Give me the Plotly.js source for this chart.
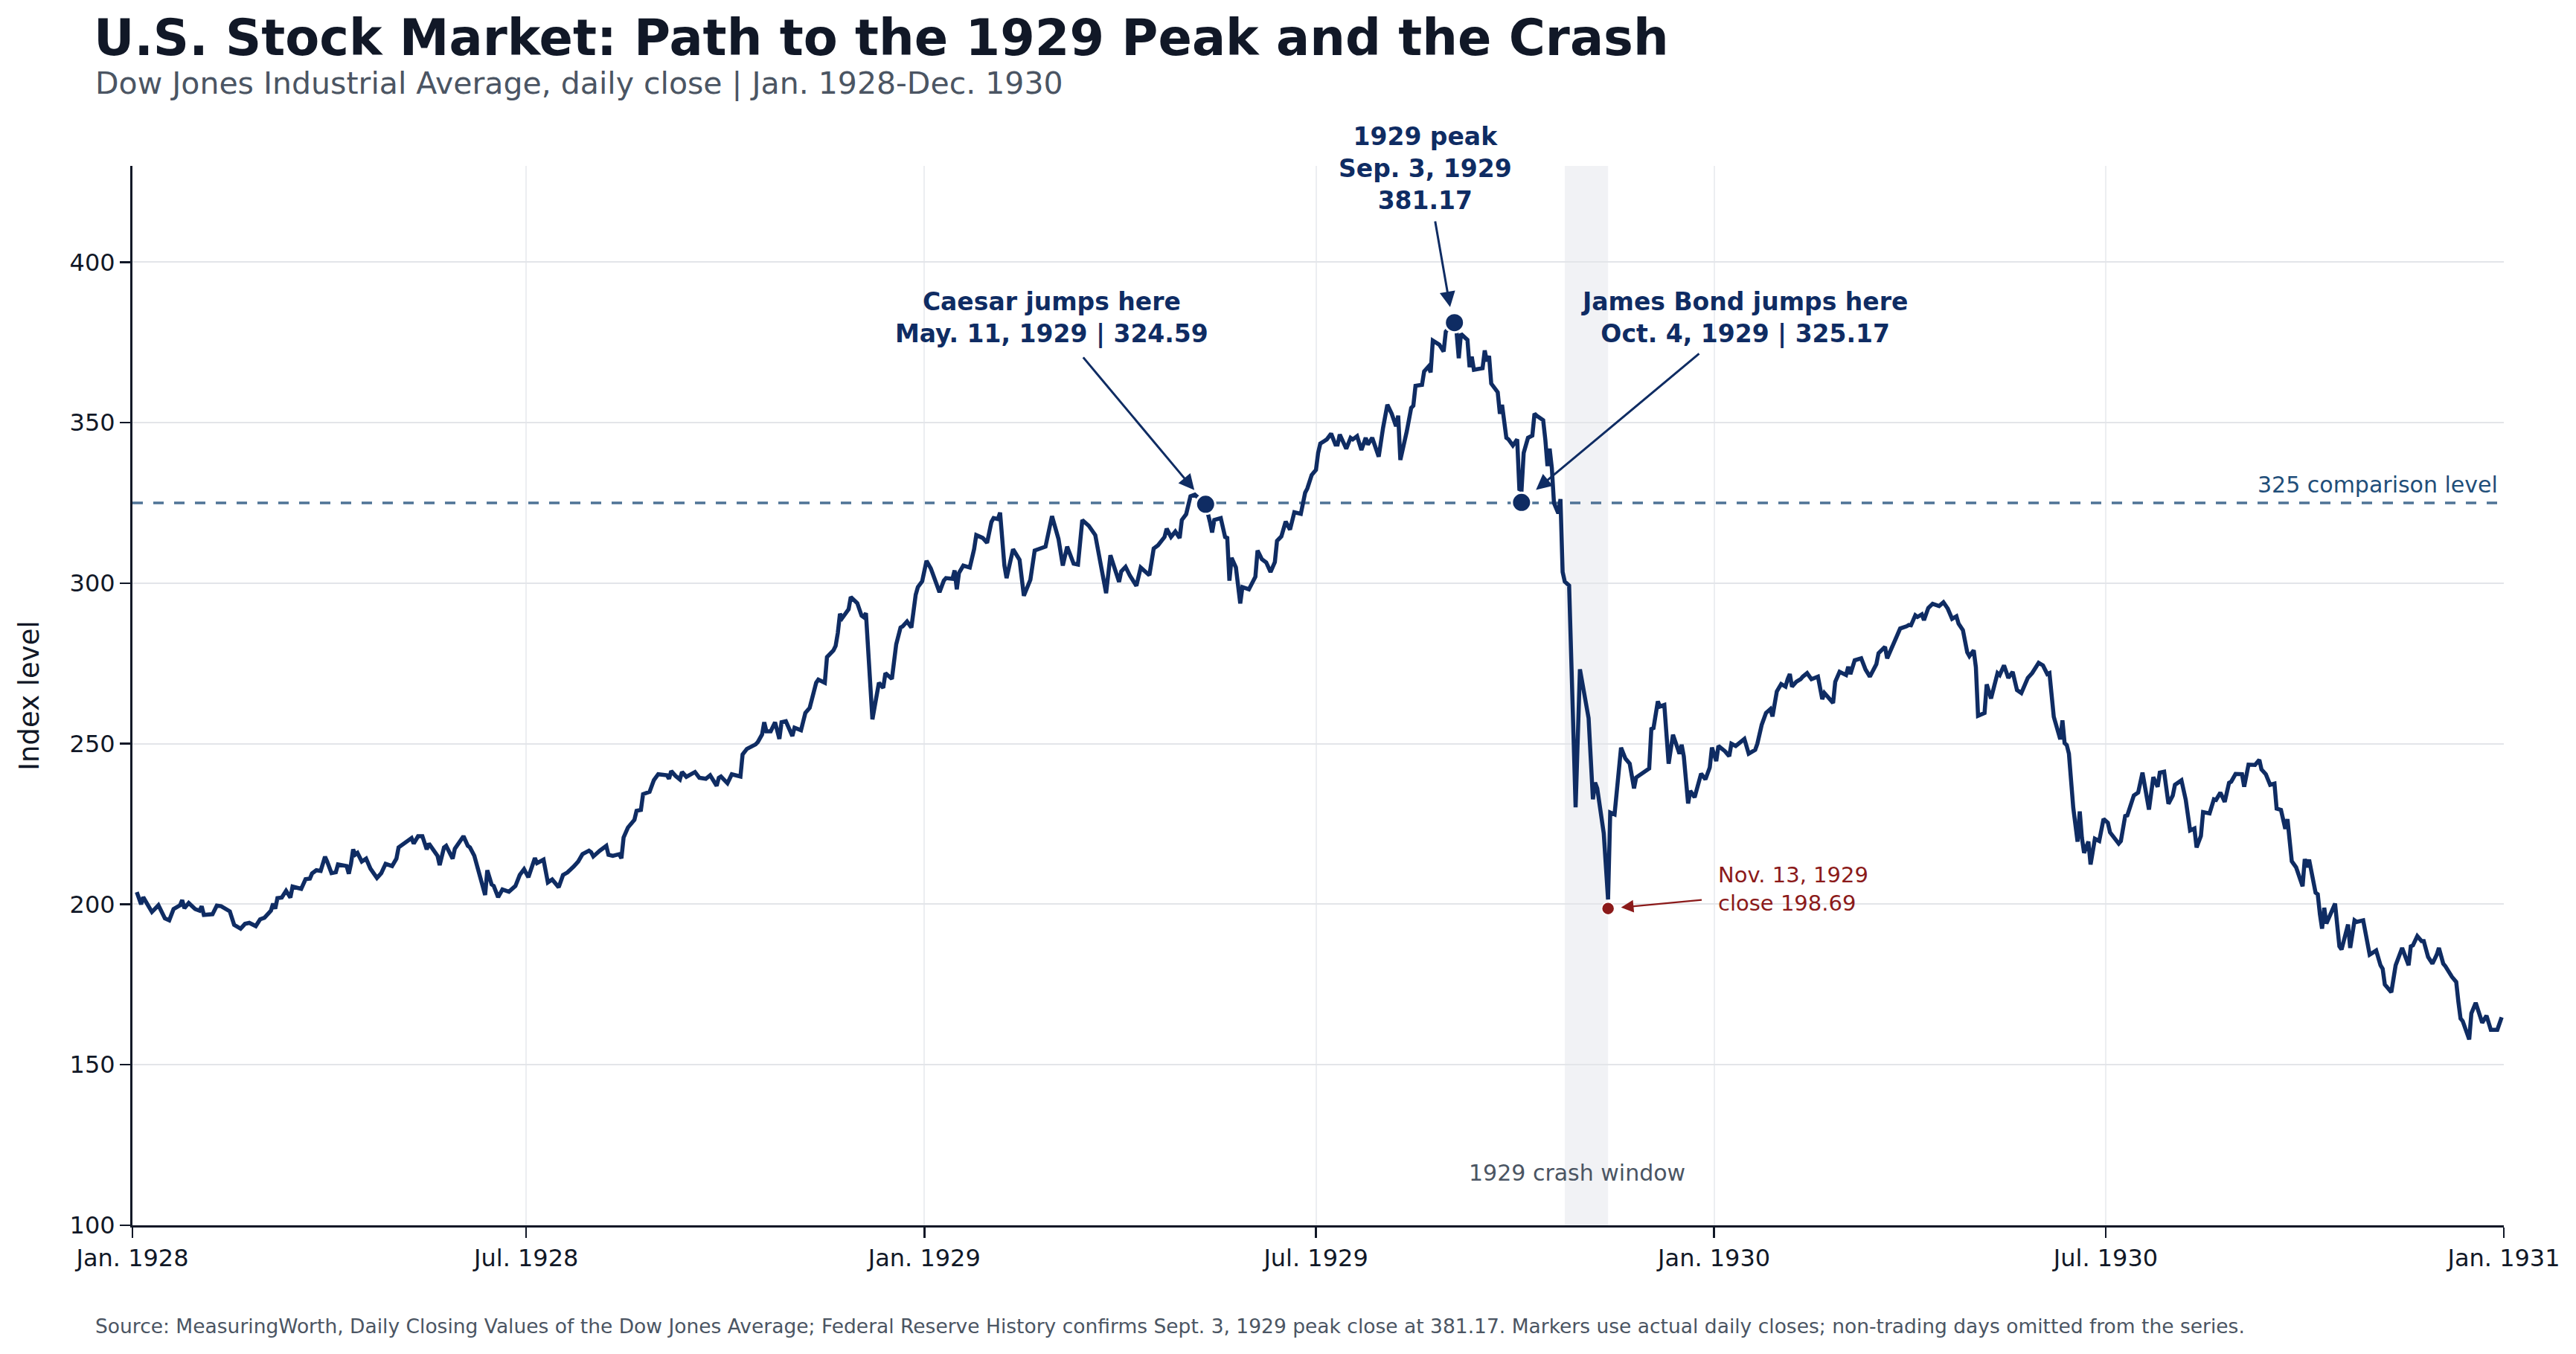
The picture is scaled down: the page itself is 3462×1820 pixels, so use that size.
<!DOCTYPE html>
<html>
<head>
<meta charset="utf-8">
<script src="https://cdn.plot.ly/plotly-3.0.1.min.js"></script>
<style>
html,body{margin:0;padding:0;background:#ffffff;}
#chart{width:3462px;height:1820px;}
</style>
</head>
<body>
<div id="chart"></div>
<script>
// ---------- DATA ----------
const days1928 = [
 '01-03','01-05','01-06','01-10','01-13','01-16','01-18','01-20','01-23','01-24','01-25','01-27','01-30',
 '02-01','02-02','02-03','02-07','02-09','02-11','02-15','02-17','02-20','02-22','02-24','02-27','02-29',
 '03-02','03-05','03-06','03-07','03-08','03-10','03-12','03-14','03-15','03-19','03-21','03-23','03-24','03-26','03-28','03-30','03-31',
 '04-02','04-04','04-05','04-09','04-10','04-11','04-12','04-13','04-14','04-16','04-18','04-20','04-23','04-25','04-27','04-30',
 '05-02','05-03','05-07','05-09','05-10','05-12','05-14','05-16','05-17','05-21','05-22','05-24','05-25','05-28','05-29',
 '06-02','06-04','06-05','06-07','06-09','06-12','06-13','06-15','06-16','06-18','06-20','06-23','06-26','06-28','06-30',
 '07-02','07-05','07-06','07-09','07-11','07-13','07-16','07-18','07-20','07-23','07-25','07-27','07-30','07-31',
 '08-01','08-04','08-07','08-08','08-10','08-13','08-14','08-15','08-17','08-20','08-21','08-23','08-24','08-27','08-29','08-31',
 '09-04','09-05','09-06','09-08','09-10','09-11','09-13','09-17','09-19','09-22','09-24','09-27','09-28','09-29',
 '10-02','10-04','10-08','10-09','10-11','10-15','10-16','10-18','10-19','10-20','10-22','10-24','10-26','10-27','10-29',
 '11-01','11-02','11-05','11-07','11-09','11-12','11-13','11-16','11-17','11-20','11-21','11-22','11-23','11-24','11-27','11-28',
 '12-01','12-03','12-04','12-05','12-08','12-11','12-13','12-14','12-17','12-19','12-21','12-22','12-24','12-26','12-28','12-29','12-31'
];
const closes1928 = [
 203.8,200.0,202.2,197.6,199.7,195.6,195.0,198.5,199.7,201.3,198.8,200.4,198.5,
 198.0,199.4,196.7,196.9,199.6,199.4,197.8,193.6,192.4,193.9,194.2,193.2,195.3,
 195.8,198.0,200.2,198.6,201.9,202.1,204.2,202.1,205.5,204.8,207.8,208.0,209.6,210.6,210.4,214.8,213.3,
 209.7,210.0,212.4,211.9,209.5,212.6,217.1,215.5,216.0,213.3,214.2,211.1,208.2,209.7,212.6,211.9,
 214.2,217.7,219.9,220.6,218.9,221.2,221.2,217.1,218.9,215.1,212.2,217.7,218.2,214.2,217.3,
 221.2,218.2,217.7,215.1,209.7,202.9,210.6,206.2,205.7,202.2,204.6,203.9,205.7,209.1,210.9,
 208.4,214.4,212.8,213.9,206.8,207.7,205.3,209.1,209.9,211.8,213.3,215.6,216.7,216.2,
 214.9,216.7,218.2,215.4,215.1,215.6,214.3,220.8,223.9,226.3,229.1,229.4,234.3,235.0,238.7,240.5,
 240.2,239.1,241.5,240.0,238.9,241.2,239.7,241.2,239.4,239.1,240.2,236.9,239.4,239.8,
 237.7,240.5,239.8,246.7,248.4,249.8,250.5,252.9,256.7,253.9,253.9,256.7,251.5,256.7,257.0,
 252.4,255.0,254.2,259.6,261.2,269.0,270.0,269.0,277.0,279.1,280.5,284.5,290.5,289.1,291.9,295.7,
 293.8,289.9,289.4,290.7,257.6,269.0,267.4,272.0,270.2,281.0,286.2,286.6,288.1,286.2,296.4,298.8,300.6
];
const days1929 = [
 '01-02','01-04','01-07','01-08','01-10','01-11','01-14','01-15','01-16','01-17','01-19','01-22','01-24','01-25','01-28','01-30',
 '02-01','02-02','02-04','02-05','02-07','02-08','02-11','02-14','02-16','02-19','02-21','02-26',
 '03-01','03-04','03-06','03-08','03-11','03-13','03-15','03-18','03-21','03-25','03-26','03-28','03-30',
 '04-01','04-02','04-04','04-06','04-09','04-11','04-15','04-17','04-19','04-22','04-23','04-25','04-27','04-29','04-30',
 '05-02','05-04','05-06','05-11','05-13','05-14','05-15','05-18','05-20','05-21','05-22','05-23','05-25','05-27','05-28','05-31',
 '06-03','06-04','06-06','06-08','06-10','06-12','06-13','06-15','06-17','06-19','06-21','06-24','06-26','06-27','06-29',
 '07-01','07-02','07-03','07-06','07-08','07-10','07-11','07-12','07-15','07-17','07-18','07-20','07-22','07-24','07-25','07-27','07-30',
 '08-01','08-03','08-05','08-07','08-08','08-09','08-12','08-14','08-15','08-16','08-19','08-20','08-22','08-23','08-24','08-27','08-29','08-30',
 '09-03','09-04','09-05','09-06','09-09','09-10','09-11','09-12','09-16','09-17','09-18','09-19','09-20','09-23','09-24','09-25','09-27','09-28','09-30',
 '10-02','10-03','10-04','10-05','10-07','10-09','10-10','10-11','10-14','10-15','10-16','10-17','10-18','10-19','10-21','10-22','10-23','10-24','10-26','10-29','10-31',
 '11-04','11-06','11-07','11-08','11-11','11-12','11-13','11-14','11-16','11-19','11-21','11-23','11-25','11-26',
 '12-02','12-03','12-04','12-06','12-07','12-09','12-11','12-13','12-16','12-17','12-18','12-20','12-21','12-23','12-26','12-28','12-30','12-31'
];
const closes1929 = [
 307.0,304.6,299.2,297.2,300.8,301.6,301.4,304.0,298.1,303.2,305.5,304.9,310.6,315.0,314.1,312.6,
 319.1,320.3,320.0,322.0,305.5,301.6,310.6,307.3,296.1,301.1,310.2,311.4,
 320.9,313.8,305.5,311.4,306.1,305.8,319.7,317.9,315.0,301.4,296.9,308.7,304.3,
 300.4,303.7,305.1,302.4,299.2,304.9,302.5,310.8,311.8,314.4,317.0,314.4,316.1,314.1,319.7,
 321.5,327.1,327.6,324.6,319.1,315.8,319.7,320.3,314.4,314.1,300.8,307.9,304.9,293.7,298.8,298.1,
 302.0,310.2,307.5,306.5,303.5,306.6,313.2,314.6,319.2,316.7,322.1,321.6,328.2,329.5,333.7,
 335.3,340.6,343.5,344.8,346.6,343.2,343.2,346.3,341.9,345.3,344.8,345.8,341.5,345.3,343.2,345.3,339.4,
 348.4,355.6,352.8,348.9,352.2,338.4,347.4,354.6,355.3,361.5,361.8,366.0,367.5,365.7,375.6,374.3,372.2,378.4,
 381.17,378.0,370.1,377.7,375.8,367.3,370.6,366.5,367.0,372.5,369.1,370.8,362.2,359.5,352.8,355.6,345.3,344.8,342.9,
 344.8,329.3,329.0,340.6,345.3,346.0,352.8,352.2,350.8,344.8,336.5,341.9,336.0,325.0,321.8,326.2,303.5,300.5,299.3,230.2,273.2,
 258.0,232.7,237.9,236.1,222.1,210.5,201.5,228.6,228.0,248.8,245.4,243.8,236.1,239.5,
 242.3,254.6,254.9,263.2,261.6,262.1,243.8,252.8,246.9,249.7,246.1,231.4,235.3,233.3,240.7,238.9,242.6,248.8
];
const days1930 = [
 '01-02','01-03','01-06','01-08','01-09','01-11','01-13','01-15','01-17','01-20','01-21','01-23','01-25','01-27','01-28','01-30',
 '02-01','02-03','02-04','02-05','02-06','02-08','02-10','02-11','02-13','02-15','02-18','02-20','02-21','02-25','02-26','02-28',
 '03-03','03-04','03-05','03-07','03-10','03-12','03-14','03-17','03-18','03-21','03-22','03-25','03-26','03-28','03-31',
 '04-01','04-02','04-04','04-05','04-07','04-08','04-10','04-12','04-15','04-17','04-19','04-21','04-23','04-24','04-26','04-28','04-29',
 '05-01','05-02','05-03','05-06','05-07','05-09','05-12','05-13','05-15','05-17','05-19','05-21','05-23','05-26','05-28','05-31',
 '06-02','06-04','06-05','06-07','06-10','06-11','06-12','06-13','06-14','06-16','06-18','06-19','06-20','06-21','06-23','06-24','06-26','06-28','06-30',
 '07-02','07-03','07-07','07-08','07-10','07-11','07-14','07-16','07-18','07-21','07-23','07-25','07-26','07-28','07-30',
 '08-01','08-02','08-05','08-07','08-09','08-11','08-12','08-14','08-15','08-18','08-20','08-21','08-23','08-25','08-27','08-28','08-30',
 '09-02','09-03','09-05','09-08','09-10','09-11','09-13','09-15','09-17','09-18','09-20','09-22','09-23','09-25','09-27','09-30',
 '10-01','10-02','10-03','10-06','10-07','10-08','10-09','10-10','10-11','10-15','10-16','10-17','10-18','10-21','10-22','10-24','10-25','10-28','10-31',
 '11-03','11-05','11-06','11-07','11-10','11-12','11-15','11-18','11-19','11-20','11-22','11-24','11-25','11-27','11-29',
 '12-01','12-02','12-04','12-05','12-08','12-10','12-11','12-12','12-13','12-16','12-17','12-18','12-19','12-22','12-24','12-26','12-29','12-31'
];
const closes1930 = [
 244.6,249.3,247.7,246.1,250.0,249.3,250.3,251.5,246.9,248.1,250.0,255.9,259.6,260.8,258.5,266.3,
 268.6,267.8,270.1,271.7,267.8,269.3,270.1,270.9,272.0,270.1,270.9,263.9,265.8,262.7,269.3,272.4,
 271.4,274.0,271.7,276.0,276.6,273.1,270.9,274.8,278.2,280.2,276.6,281.0,282.5,285.9,286.6,
 287.0,286.9,290.0,289.5,290.3,288.5,292.3,293.6,292.9,294.07,292.1,288.9,289.7,287.4,285.4,278.5,277.3,
 279.1,273.8,258.7,259.6,268.5,264.1,272.0,271.4,274.4,270.5,272.4,266.7,265.8,270.5,272.0,275.2,
 274.4,271.7,272.0,258.4,251.4,257.3,250.2,249.6,246.9,230.1,219.5,228.9,220.7,216.0,219.5,212.4,220.4,219.7,226.6,
 225.4,222.4,218.9,219.7,227.5,227.7,233.9,234.8,241.0,229.5,239.6,236.6,241.0,241.3,231.3,
 233.9,237.2,238.6,232.5,223.0,223.6,217.7,221.3,228.7,228.3,232.7,232.5,234.8,231.9,237.8,238.2,240.6,
 240.5,236.6,243.5,243.4,245.0,242.0,240.5,237.2,237.6,229.8,229.4,223.5,226.5,213.4,211.5,205.6,
 214.1,211.5,213.9,203.6,203.1,196.9,192.4,198.9,194.0,200.2,194.5,186.9,185.9,193.7,186.4,195.0,194.5,195.0,184.3,
 185.6,181.0,179.9,175.0,172.6,181.0,186.4,181.0,186.9,187.2,190.1,188.5,188.5,183.6,181.5,
 184.3,186.4,181.5,180.7,177.4,175.8,169.6,164.4,163.6,157.9,166.0,167.7,169.3,163.1,165.3,160.9,160.9,164.8
];

const keyDates = ['1929-05-11','1929-09-03','1929-10-04'];
const keyCloses = [324.59, 381.17, 325.17];
const troughDates = ['1929-11-13'];
const troughCloses = [198.69];
const comparisonLevel = 325;
const crashWindow = ['1929-10-24','1929-11-13'];
const tickDates = ['1928-01-01','1928-07-01','1929-01-01','1929-07-01','1930-01-01','1930-07-01','1931-01-01'];
const tickLabels = ['Jan. 1928','Jul. 1928','Jan. 1929','Jul. 1929','Jan. 1930','Jul. 1930','Jan. 1931'];
const yTicks = [100,150,200,250,300,350,400];

// ---------- BUILD ----------
const allDates = [].concat(
  days1928.map(d => '1928-' + d),
  days1929.map(d => '1929-' + d),
  days1930.map(d => '1930-' + d)
);
const allCloses = [].concat(closes1928, closes1929, closes1930);

const NAVY = '#0f2c63';
const DARK = '#111827';
const GRAY = '#4b5563';
const RED = '#8b1a1a';
const FONT = 'DejaVu Sans';

const traces = [
  {
    type: 'scatter', mode: 'lines', x: allDates, y: allCloses,
    line: {color: NAVY, width: 5.5}, hoverinfo: 'skip', showlegend: false
  },
  {
    type: 'scatter', mode: 'markers', x: keyDates, y: keyCloses,
    marker: {size: 26, color: NAVY, line: {color: '#ffffff', width: 3}},
    hoverinfo: 'skip', showlegend: false, cliponaxis: false
  },
  {
    type: 'scatter', mode: 'markers', x: troughDates, y: troughCloses,
    marker: {size: 17, color: RED, line: {color: '#ffffff', width: 1.5}},
    hoverinfo: 'skip', showlegend: false, cliponaxis: false
  }
];

const boldNavy = {family: FONT, size: 33, color: NAVY, weight: 'bold'};

const annotations = [
  // subtitle
  {xref: 'paper', yref: 'paper', x: -0.0163, y: 1.0780, xanchor: 'left', yanchor: 'middle',
   text: 'Dow Jones Industrial Average, daily close | Jan. 1928-Dec. 1930', showarrow: false,
   font: {family: FONT, size: 41, color: GRAY}},
  // footer
  {xref: 'paper', yref: 'paper', x: -0.0163, y: -0.0955, xanchor: 'left', yanchor: 'middle',
   text: 'Source: MeasuringWorth, Daily Closing Values of the Dow Jones Average; Federal Reserve History confirms Sept. 3, 1929 peak close at 381.17. Markers use actual daily closes; non-trading days omitted from the series.',
   showarrow: false, font: {family: FONT, size: 26.5, color: GRAY}},
  // comparison label
  {xref: 'paper', yref: 'y', x: 0.998, y: 330.8, xanchor: 'right', yanchor: 'middle',
   text: '325 comparison level', showarrow: false, font: {family: FONT, size: 30, color: '#1f4e79'}},
  // crash window label
  {xref: 'x', yref: 'y', x: '1929-10-29 18:00', y: 116.3, xanchor: 'center', yanchor: 'middle',
   text: '1929 crash window', showarrow: false, font: {family: FONT, size: 30, color: GRAY}},
  // Caesar
  {xref: 'x', yref: 'y', x: '1929-03-01', y: 382.8, xanchor: 'center', yanchor: 'middle',
   text: 'Caesar jumps here<br>May. 11, 1929 | 324.59', showarrow: false, font: boldNavy},
  {xref: 'x', yref: 'y', x: '1929-05-05 19:00', y: 329.0, axref: 'x', ayref: 'y',
   ax: '1929-03-15', ay: 370.7, text: '', showarrow: true, arrowhead: 2, arrowsize: 1.4,
   arrowwidth: 3, arrowcolor: NAVY, standoff: 0, startstandoff: 0},
  // Peak
  {xref: 'x', yref: 'y', x: '1929-08-20 10:00', y: 429.3, xanchor: 'center', yanchor: 'middle',
   text: '1929 peak<br>Sep. 3, 1929<br>381.17', showarrow: false, font: boldNavy},
  {xref: 'x', yref: 'y', x: '1929-09-01', y: 386.0, axref: 'x', ayref: 'y',
   ax: '1929-08-25', ay: 413.1, text: '', showarrow: true, arrowhead: 2, arrowsize: 1.4,
   arrowwidth: 3, arrowcolor: NAVY, standoff: 0, startstandoff: 0},
  // James Bond
  {xref: 'x', yref: 'y', x: '1930-01-15', y: 382.8, xanchor: 'center', yanchor: 'middle',
   text: 'James Bond jumps here<br>Oct. 4, 1929 | 325.17', showarrow: false, font: boldNavy},
  {xref: 'x', yref: 'y', x: '1929-10-10 16:00', y: 329.1, axref: 'x', ayref: 'y',
   ax: '1929-12-25 14:00', ay: 371.8, text: '', showarrow: true, arrowhead: 2, arrowsize: 1.4,
   arrowwidth: 3, arrowcolor: NAVY, standoff: 0, startstandoff: 0},
  // Trough
  {xref: 'x', yref: 'y', x: '1930-01-02', y: 204.8, xanchor: 'left', yanchor: 'middle', align: 'left',
   text: 'Nov. 13, 1929<br>close 198.69', showarrow: false, font: {family: FONT, size: 29, color: RED}},
  {xref: 'x', yref: 'y', x: '1929-11-19', y: 199.0, axref: 'x', ayref: 'y',
   ax: '1929-12-26 19:00', ay: 201.4, text: '', showarrow: true, arrowhead: 2, arrowsize: 1.4,
   arrowwidth: 2.4, arrowcolor: RED, standoff: 0, startstandoff: 0}
];

const shapes = [
  {type: 'rect', xref: 'x', yref: 'paper', x0: crashWindow[0], x1: crashWindow[1], y0: 0, y1: 1,
   fillcolor: '#f1f2f5', line: {width: 0}, layer: 'below'},
  {type: 'line', xref: 'paper', yref: 'y', x0: 0, x1: 1, y0: comparisonLevel, y1: comparisonLevel,
   line: {color: '#4f7396', width: 3.5, dash: '14px,14px'}, layer: 'between'}
];

const layout = {
  width: 3462, height: 1820,
  margin: {l: 178, r: 97, t: 223, b: 173, pad: 0},
  paper_bgcolor: '#ffffff', plot_bgcolor: '#ffffff',
  font: {family: FONT, color: DARK},
  showlegend: false, hovermode: false,
  title: {
    text: 'U.S. Stock Market: Path to the 1929 Peak and the Crash',
    xref: 'container', yref: 'container', x: 0.0364, xanchor: 'left', y: 0.9722, yanchor: 'middle',
    font: {family: FONT, size: 67, color: DARK, weight: 'bold'}
  },
  xaxis: {
    type: 'date', range: ['1928-01-01', '1931-01-01'],
    tickmode: 'array', tickvals: tickDates, ticktext: tickLabels,
    showgrid: true, gridcolor: '#eceef1', gridwidth: 2,
    showline: true, linecolor: DARK, linewidth: 3,
    ticks: 'outside', ticklen: 14, tickwidth: 2.5, tickcolor: DARK,
    tickfont: {family: FONT, size: 32, color: DARK},
    zeroline: false, fixedrange: true
  },
  yaxis: {
    range: [100, 430], tickmode: 'array', tickvals: yTicks,
    showgrid: true, gridcolor: '#e3e5e9', gridwidth: 2,
    showline: true, linecolor: DARK, linewidth: 3,
    ticks: 'outside', ticklen: 14, tickwidth: 2.5, tickcolor: DARK,
    tickfont: {family: FONT, size: 32, color: DARK},
    title: {text: 'Index level', font: {family: FONT, size: 37, color: DARK}, standoff: 30},
    zeroline: false, fixedrange: true
  },
  shapes: shapes,
  annotations: annotations
};

Plotly.newPlot('chart', traces, layout, {staticPlot: true, displayModeBar: false});
</script>
</body>
</html>
